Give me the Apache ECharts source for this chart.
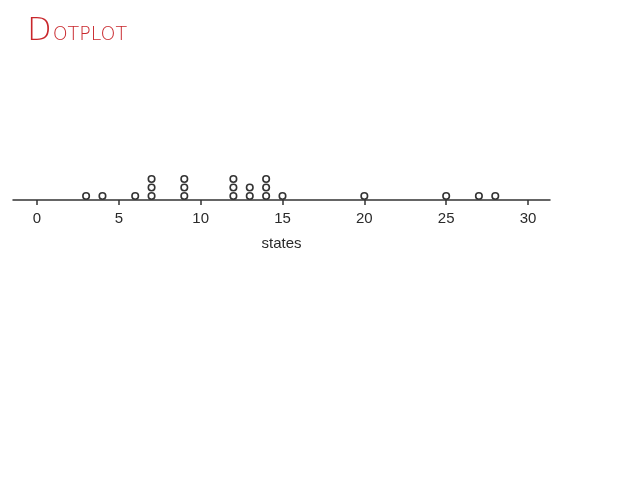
<!DOCTYPE html>
<html><head><meta charset="utf-8">
<script src="https://cdn.jsdelivr.net/npm/echarts@6/dist/echarts.min.js"></script>
<style>html,body{margin:0;padding:0;background:#fff}#c{width:638px;height:478px}</style>
</head><body><div id="c"></div>
<script>
var stateValues = [3,4,6,7,7,7,9,9,9,12,12,12,13,13,14,14,14,15,20,25,27,28];
var tickValues = [0,5,10,15,20,25,30];
var axisName = 'states';

var counts = {};
var points = stateValues.map(function(v){
  counts[v] = (counts[v]||0) + 1;
  return [v, counts[v]];
});

var chart = echarts.init(document.getElementById('c'));
chart.setOption({
  animation: false,
  backgroundColor: '#fff',
  title: {
    text: '{a|D}{b|OTPLOT}',
    left: 22, top: 11,
    textStyle: {
      rich: {
        a: {fontSize: 32, color: '#c8262b', fontFamily: 'DejaVu Sans', fontWeight: 'lighter', verticalAlign: 'bottom'},
        b: {fontSize: 19, color: '#c8262b', fontFamily: 'DejaVu Sans', fontWeight: 'lighter', verticalAlign: 'bottom', padding: [0,0,3,1]}
      }
    }
  },
  grid: {left: 13, width: 537, top: 170, height: 30},
  xAxis: {
    type: 'value',
    min: -1.466, max: 31.344,
    name: axisName,
    nameLocation: 'middle',
    nameGap: 36,
    nameTextStyle: {color: '#2a2a2a', fontSize: 15, fontFamily: 'Liberation Sans'},
    axisLine: {show: true, lineStyle: {color: '#333', width: 1.5}},
    axisTick: {show: true, customValues: tickValues, length: 5, inside: false, lineStyle: {color: '#333', width: 1.5}},
    axisLabel: {show: true, customValues: tickValues, margin: 11, color: '#2a2a2a', fontSize: 15, fontFamily: 'Liberation Sans'},
    splitLine: {show: false}
  },
  yAxis: {
    type: 'value', min: 0.53, max: 4.06, show: false,
    splitLine: {show: false}
  },
  series: [{
    type: 'scatter',
    data: points,
    symbol: 'circle',
    symbolSize: 6.5,
    itemStyle: {color: '#fff', borderColor: '#333', borderWidth: 1.6, opacity: 1}
  }]
});
</script></body></html>
